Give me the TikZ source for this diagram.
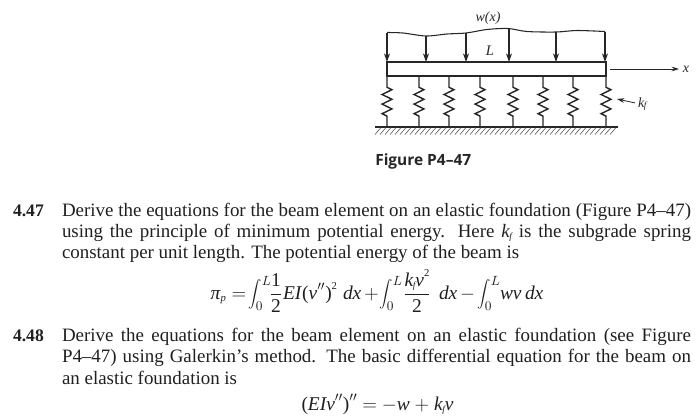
\documentclass[tikz,border=0pt]{standalone}
\usepackage{fontspec}
\setmainfont{Liberation Serif}
\newfontfamily\figfont{Open Sans}
\usetikzlibrary{arrows.meta,decorations.pathmorphing}
\newlength{\pxu}\setlength{\pxu}{0.75pt}
\newcommand{\tline}[1]{\makebox[629\pxu][s]{#1}}
\newcommand{\kf}{\textit{k\kern-0.02em\raisebox{-0.25ex}{\scriptsize\textit{f}}}}
\newcommand{\dprime}{\raisebox{0.1em}{$^{\prime\prime}$}}
\newcommand{\sq}{\raisebox{0.5em}{\footnotesize 2}}
\tikzset{
  px/.style={x=0.75pt,y=-0.75pt},
  txt/.style={anchor=base west,inner sep=0,outer sep=0,font=\fontsize{14.2}{16}\selectfont,text=black!88},
  num/.style={txt,font=\fontsize{13.2}{16}\selectfont\bfseries},
  eqn/.style={inner sep=0,outer sep=0,anchor=base west,font=\fontsize{14.6}{16}\selectfont,text=black!88},
  eqc/.style={eqn,anchor=base},
  lab/.style={inner sep=0,outer sep=0,font=\fontsize{10.5}{12}\selectfont\itshape,text=black!85},
  beamline/.style={line width=0.8pt,draw=black!85},
  load/.style={line width=0.9pt,draw=black!85,-{Stealth[length=6.5pt,width=4.5pt]}},
  springline/.style={line width=1.05pt,draw=black!85,decorate,decoration={zigzag,segment length=7.2pt,amplitude=3.7pt,pre length=8.1pt,post length=8.1pt}},
  hatch/.style={line width=0.4pt,draw=black!70},
  pointer/.style={line width=0.6pt,draw=black!85,-{Stealth[length=5.5pt,width=3.5pt]}}
}
\begin{document}
\begin{tikzpicture}[px]
\useasboundingbox (0,0) rectangle (700,419);
% beam
\coordinate (bl) at (387,62); \coordinate (br) at (606,62);
\coordinate (cl) at (387,76); \coordinate (cr) at (606,76);
\draw[beamline] (bl) -- (br) -- (cr) -- (cl) -- cycle;
% distributed load
\draw[beamline] plot[smooth,tension=0.5] coordinates {(387,32.5) (403,33) (426,36) (447,34) (466,33) (487,29.5) (508,28.5) (527,31.5) (556,32) (577,30.5) (605,31.5)};
\foreach \x/\y/\n in {387/32.5/1,426/36/2,466/33/3,509/28.5/4,556/32/5,605/31.5/6}{
  \coordinate (t\n) at (\x,\y);
  \coordinate (h\n) at (\x,62);
  \draw[load] (t\n) -- (h\n);
}
% springs and ground
\coordinate (g1) at (375,127); \coordinate (g2) at (618,127);
\foreach \x/\n in {387/1,419/2,449/3,480/4,513/5,543/6,573/7,606/8}{
  \coordinate (s\n) at (\x,76.5);
  \coordinate (f\n) at (\x,127);
  \draw[springline] (s\n) -- (f\n);
}
\draw[line width=0.9pt,draw=black!85] (g1) -- (g2);
\foreach \i in {0,...,47}{
  \draw[hatch] ({375+5*\i+6},127.5) -- ({375+5*\i},134.5);
}
% x axis
\coordinate (xa) at (610,69); \coordinate (xb) at (679,69);
\draw[pointer] (xa) -- (xb);
\node[lab,anchor=base] (xl) at (686,72) {x};
% labels
\node[lab,anchor=base] (wl) at (488,21) {w(x)};
\node[lab,anchor=base,font=\fontsize{11}{12}\selectfont\itshape] (Ll) at (490,55) {L};
\node[lab,anchor=base west,font=\fontsize{10.5}{12}\selectfont] (kl) at (638,107) {\kf};
\coordinate (kt) at (617,99);
\draw[pointer] (kl.west) ++(-3,-1) coordinate (ks) (ks) -- (kt);
\node[anchor=base west,inner sep=0,font=\figfont\fontsize{11.6}{12}\selectfont\bfseries,text=black!85] (cap) at (375,165) {Figure P4–47};
% problem 4.47
\node[num] (n47) at (13,216) {4.47};
\node[txt] (a1) at (62,216) {\tline{Derive the equations for the beam element on an elastic foundation (Figure P4–47)}};
\node[txt] (a2) at (62,237) {\tline{using the principle of minimum potential energy. Here \kf{} is the subgrade spring}};
\node[txt] (a3) at (62,258) {constant per unit length. The potential energy of the beam is};
% equation 1, placed term by term
\node[eqn] (e1) at (210.5,299.5) {\textit{π}\raisebox{-0.25ex}{\footnotesize\textit{p}}};
\node[eqc] (e2) at (239,299.5) {$=$};
\node[eqc] (i1) at (260,299.5) {$\displaystyle\int_0^L$};
\node[eqc] (f1) at (276,299.5) {$\displaystyle\frac{\mbox{1}}{\mbox{2}}$};
\node[eqn] (e3) at (283,299.5) {\textit{EI}(\textit{v}\dprime)\sq};
\node[eqn] (e4) at (343,299.5) {\textit{dx}};
\node[eqc] (e5) at (371.5,299.5) {$+$};
\node[eqc] (i2) at (391,299.5) {$\displaystyle\int_0^L$};
\node[eqc] (f2) at (417,299.5) {$\displaystyle\frac{\mbox{\kf\textit{v}\sq}}{\mbox{2}}$};
\node[eqn] (e6) at (439,299.5) {\textit{dx}};
\node[eqc] (e7) at (467.5,299.5) {$-$};
\node[eqc] (i3) at (489,299.5) {$\displaystyle\int_0^L$};
\node[eqn] (e8) at (500,299.5) {\textit{wv}};
\node[eqn] (e9) at (525,299.5) {\textit{dx}};
% problem 4.48
\node[num] (n48) at (13,341.5) {4.48};
\node[txt] (b1) at (62,341.5) {\tline{Derive the equations for the beam element on an elastic foundation (see Figure}};
\node[txt] (b2) at (62,362.5) {\tline{P4–47) using Galerkin’s method. The basic differential equation for the beam on}};
\node[txt] (b3) at (62,384) {an elastic foundation is};
\node[eqn] (eq2) at (301.5,410) {(\textit{EIv}\dprime)\dprime\ $=$ $-$\textit{w} $+$ \kf\textit{v}};
\end{tikzpicture}
\end{document}
